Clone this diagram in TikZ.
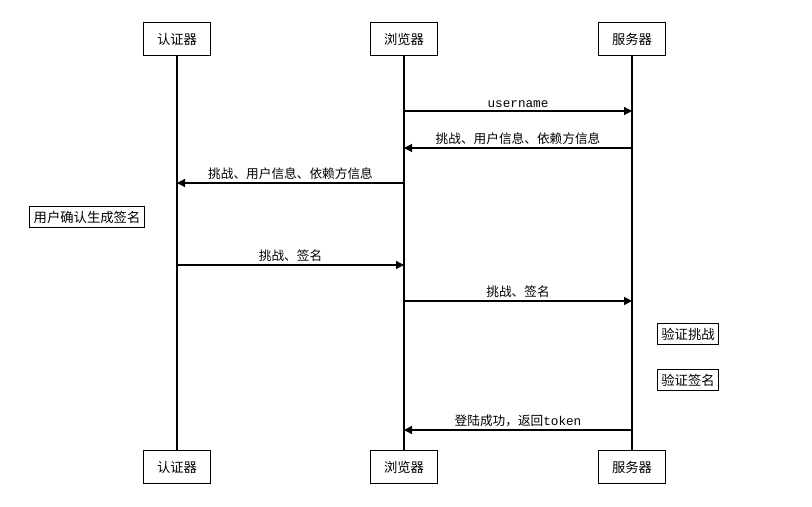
\documentclass[tikz,border=0pt]{standalone}
\usepackage{fontspec}
\setmainfont{Noto Sans CJK SC}
\setmonofont{Liberation Mono}
\usetikzlibrary{arrows.meta}
\begin{document}
\begin{tikzpicture}[x=0.75pt,y=-0.75pt,
  actor/.style={draw,line width=1.2pt,minimum width=50pt,minimum height=25pt,inner sep=2pt,font=\fontsize{10}{12}\selectfont},
  notebox/.style={draw,line width=1pt,inner sep=3pt,font=\fontsize{10}{12}\selectfont},
  life/.style={line width=1.2pt},
  msg/.style={line width=1pt,-{Triangle[length=6pt,width=6pt]}},
  lbl/.style={above,font=\fontsize{9.5}{11}\selectfont,inner sep=2pt}]
\useasboundingbox (0,0) rectangle (812,506);
\node[actor] (a1) at (177,39) {认证器};
\node[actor] (b1) at (404,39) {浏览器};
\node[actor] (c1) at (632,39) {服务器};
\node[actor] (a2) at (177,467) {认证器};
\node[actor] (b2) at (404,467) {浏览器};
\node[actor] (c2) at (632,467) {服务器};
\draw[life] (a1) -- (a2);
\draw[life] (b1) -- (b2);
\draw[life] (c1) -- (c2);
\foreach \y/\f/\t/\l in {111/b/c/{\ttfamily username},148/c/b/{挑战、用户信息、依赖方信息},183/b/a/{挑战、用户信息、依赖方信息},265/a/b/{挑战、签名},301/b/c/{挑战、签名},430/c/b/{登陆成功，返回\texttt{token}}}{
  \coordinate (s) at (\f1 |- 0,\y);
  \coordinate (e) at (\t1 |- 0,\y);
  \draw[msg] (s) -- node[lbl] {\l} (e);
}
\node[notebox] (n1) at (87,217) {用户确认生成签名};
\node[notebox] (n2) at (688,334) {验证挑战};
\node[notebox] (n3) at (688,380) {验证签名};
\end{tikzpicture}
\end{document}
